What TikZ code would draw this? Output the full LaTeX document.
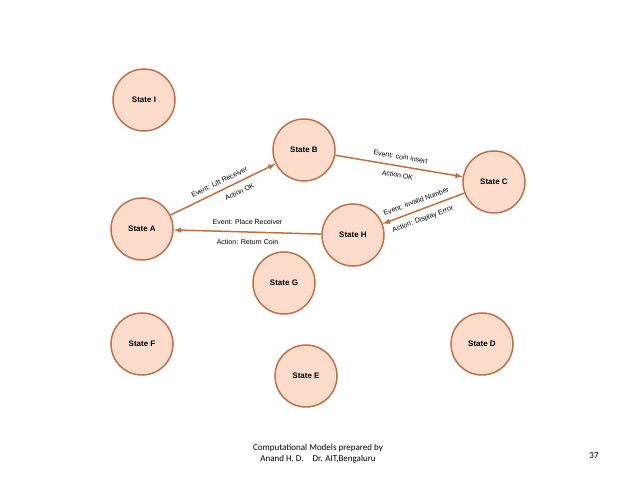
\documentclass[tikz,border=0pt]{standalone}
\usepackage{fontspec}
\setmainfont{Liberation Sans}
\newfontfamily\footfont{Carlito}
\begin{document}
\begin{tikzpicture}[x=1pt,y=-1pt,
  st/.style={circle,draw=stb,fill=stf,line width=1.5pt,minimum size=62pt,inner sep=0pt,font=\fontsize{8}{9}\selectfont\bfseries},
  ed/.style={draw=edc,line width=1.5pt,-latex},
  lb/.style={font=\fontsize{7}{8}\selectfont,inner sep=1pt}]
\definecolor{stb}{HTML}{C0704A}
\definecolor{stf}{HTML}{FDDCCB}
\definecolor{edc}{HTML}{C0703A}
\useasboundingbox (0,0) rectangle (638,478);
\fill[white] (0,0) rectangle (638,478);
\node[st] (I) at (144,100) {State I};
\node[st] (B) at (304,150) {State B};
\node[st] (C) at (494,182) {State C};
\node[st] (A) at (142,229) {State A};
\node[st] (H) at (353,235) {State H};
\node[st] (G) at (284,283) {State G};
\node[st] (F) at (142,344) {State F};
\node[st] (D) at (482,344) {State D};
\node[st] (E) at (306,376) {State E};
\draw[ed] (A) -- (B) node[pos=0.5,sloped,above=4pt,lb]{Event: Lift Receiver} node[pos=0.62,sloped,below=5pt,lb]{Action OK};
\draw[ed] (B) -- (C) node[midway,sloped,above=5pt,lb]{Event: coin insert} node[midway,sloped,below=5pt,lb]{Action OK};
\draw[ed] (C) -- (H) node[pos=0.55,sloped,above=5pt,lb]{Event: invalid Number} node[pos=0.55,sloped,below=5pt,lb]{Action: Display Error};
\draw[ed] (H) -- (A) node[midway,above=6pt,lb]{Event: Place Receiver} node[midway,below=6pt,lb]{Action: Return Coin};
\node[font=\footfont\fontsize{9}{11}\selectfont,align=center] (ft) at (318,454) {Computational Models prepared by\\Anand H. D.\quad Dr. AIT,Bengaluru};
\node[font=\footfont\fontsize{9}{11}\selectfont] (pg) at (594,456) {37};
\end{tikzpicture}
\end{document}
